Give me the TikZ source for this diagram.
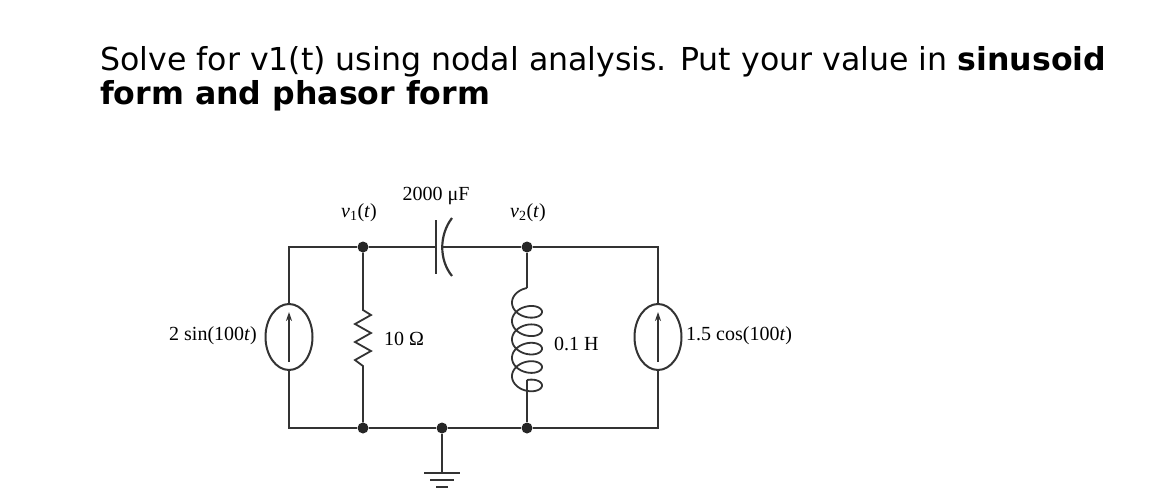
\documentclass[tikz,border=0pt]{standalone}
\usepackage{fontspec}
\setmainfont{Liberation Serif}
\newfontfamily\titlefont{DejaVu Sans}
\usetikzlibrary{arrows.meta,shapes.geometric}
\begin{document}
\begin{tikzpicture}[x=1pt,y=-1pt,
  wire/.style={line width=1.8pt,color=black!80},
  dotn/.style={circle,fill=black!85,inner sep=0pt,minimum size=11pt},
  lbl/.style={font=\fontsize{20}{20}\selectfont,inner sep=1pt},
  src/.style={draw=black!80,line width=2pt,ellipse,minimum width=47pt,minimum height=66pt,inner sep=0pt}]
\useasboundingbox (0,0) rectangle (1170,498);
\node[anchor=base west,font=\titlefont\fontsize{31.6}{36}\selectfont,inner sep=0pt] (t1) at (100,70) {Solve for v1(t) using nodal analysis. Put your value in \textbf{sinusoid}};
\node[anchor=base west,font=\titlefont\fontsize{31.6}{36}\selectfont\bfseries,inner sep=0pt] (t2) at (100,104) {form and phasor form};
% coordinates
\coordinate (tl) at (289,247); \coordinate (tr) at (658,247);
\coordinate (bl) at (289,428); \coordinate (br) at (658,428);
\node[dotn] (v1) at (363,247) {}; \node[dotn] (v2) at (527,247) {};
\node[dotn] (b1) at (363,428) {}; \node[dotn] (b2) at (527,428) {};
\node[dotn] (g) at (442,428) {};
\coordinate (c1) at (436,247); \coordinate (c2) at (443,247);
% sources
\node[src] (s1) at (289,337) {};
\node[src] (s2) at (658,337) {};
\draw[wire,-{Stealth[length=9pt,width=6pt]}] (289,362) -- (289,312);
\draw[wire,-{Stealth[length=9pt,width=6pt]}] (658,362) -- (658,312);
% wires
\draw[wire] (s1.north) -- (tl) -- (v1) -- (c1);
\draw[wire] (c2) -- (v2) -- (tr) -- (s2.north);
\draw[wire] (s1.south) -- (bl) -- (b1) -- (g) -- (b2) -- (br) -- (s2.south);
% capacitor
\draw[wire,line width=2.2pt] (436,220) -- (436,274);
\draw[wire,line width=2.2pt] (452,218) .. controls (439,235) and (439,260) .. (452,276);
% resistor
\coordinate (r1) at (363,310); \coordinate (r2) at (363,366);
\draw[wire,line join=miter] (v1) -- (r1) -- (371,315) -- (355,324) -- (371,333) -- (355,342) -- (371,351) -- (355,360) -- (r2) -- (b1);
% inductor
\coordinate (l1) at (527,288); \coordinate (l2) at (527,380);
\draw[wire] (v2) -- (l1);
\draw[wire] plot[domain=90:1890,samples=400,variable=\t] ({527+15*cos(\t)},{288+2.93*(\t-90)/57.2958-10*sin(\t)+10});
\draw[wire] (l2) -- (b2);
% ground
\coordinate (gb) at (442,473);
\draw[wire] (g) -- (gb);
\draw[wire] (424,473) -- (460,473);
\draw[wire] (430,480) -- (454,480);
\draw[wire] (436,487) -- (448,487);
% labels
\node[lbl,anchor=east] (ls1) at (258,336) {2 sin(100\textit{t})};
\node[lbl,anchor=west] (ls2) at (685,336) {1.5 cos(100\textit{t})};
\node[lbl,anchor=west] (lr) at (383,339) {10 Ω};
\node[lbl,anchor=west] (ll) at (553,344) {0.1 H};
\node[lbl] (lc) at (436,196) {2000 μF};
\node[lbl] (lv1) at (359,213) {\textit{v}\textsubscript{1}(\textit{t})};
\node[lbl] (lv2) at (528,213) {\textit{v}\textsubscript{2}(\textit{t})};
\end{tikzpicture}
\end{document}
